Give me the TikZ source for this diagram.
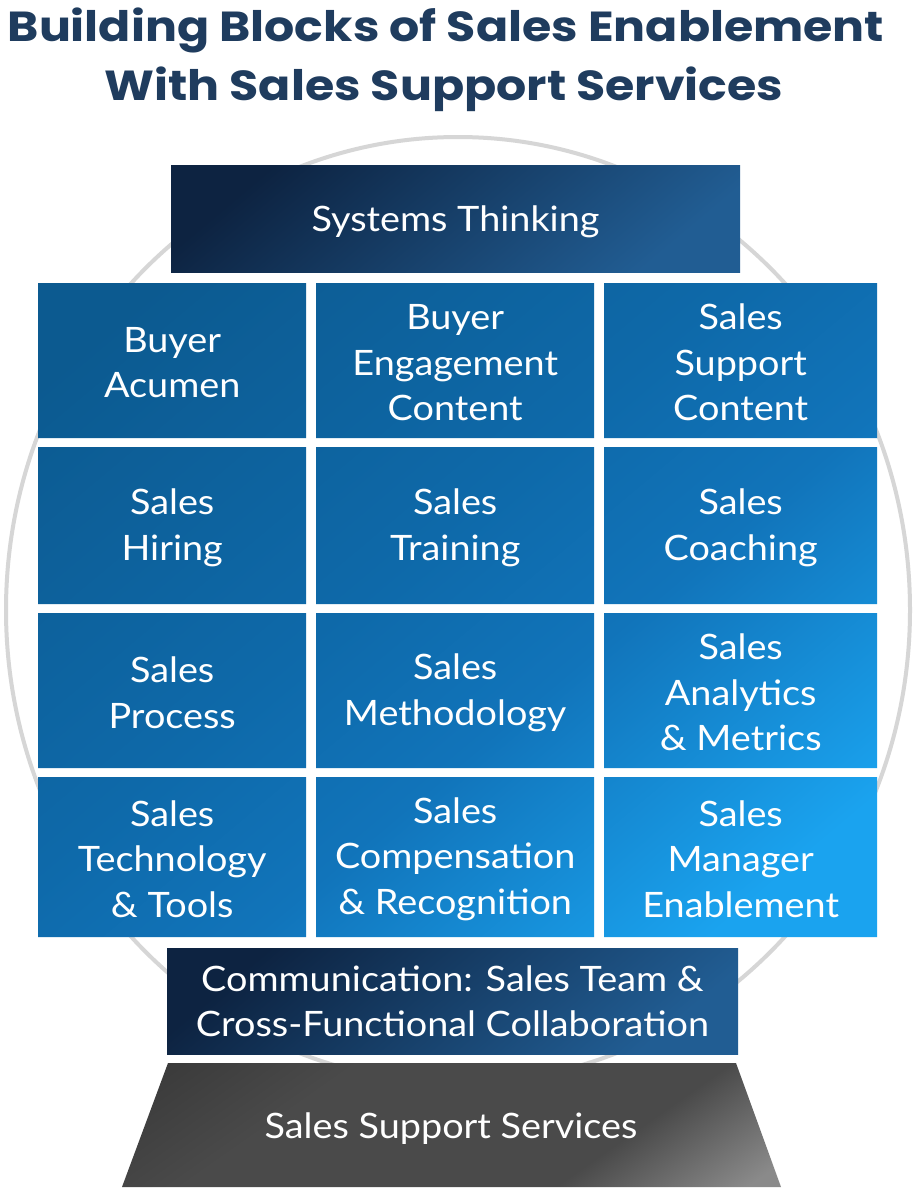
\documentclass[tikz,border=0pt]{standalone}
\usepackage{fontspec}
\setmainfont{Lato}[FakeStretch=1.08]
\newfontfamily\titlefont{Poppins}[FakeStretch=1.13]
\usetikzlibrary{shapes.geometric}
\definecolor{titleblue}{HTML}{1F3C5E}
\definecolor{ringgray}{HTML}{D6D6D6}
\definecolor{navyA}{HTML}{0D2341}
\definecolor{navyB}{HTML}{215D93}
\definecolor{gTL}{HTML}{0C5A90}
\definecolor{gMid}{HTML}{0E69A9}
\definecolor{gMidB}{HTML}{1174BA}
\definecolor{gBR}{HTML}{1AA3EF}
\definecolor{grayA}{HTML}{3A3A3A}
\definecolor{grayM}{HTML}{4A4A4A}
\definecolor{grayB}{HTML}{8A8A8A}
\pgfdeclareverticalshading{darksh}{100bp}{color(0bp)=(navyB); color(25bp)=(navyB); color(75bp)=(navyA); color(100bp)=(navyA)}
\pgfdeclareverticalshading{gridsh}{100bp}{color(0bp)=(gBR); color(22bp)=(gBR); color(42bp)=(gMidB); color(55bp)=(gMid); color(80bp)=(gTL); color(100bp)=(gTL)}
\pgfdeclareverticalshading{graysh}{100bp}{color(0bp)=(grayB); color(18bp)=(grayB); color(34bp)=(grayM); color(65bp)=(grayM); color(82bp)=(grayA); color(100bp)=(grayA)}
\tikzset{
  celltext/.style={text=white, align=center, inner sep=0pt,
    font=\fontsize{35}{45.5}\selectfont},
  cellbox/.style={celltext, anchor=north west},
  darkbox/.style={celltext, shade, shading=darksh, shading angle=40, text depth=0pt},
  titletext/.style={text=titleblue, inner sep=0pt, anchor=base,
    font=\titlefont\fontsize{42}{50}\selectfont\bfseries}
}
\begin{document}
\begin{tikzpicture}[x=1pt,y=-1pt]
\useasboundingbox[fill=white] (0,0) rectangle (916,1189);
% title
\node[titletext] (t1) at (446,41) {Building Blocks of Sales Enablement};
\node[titletext] (t2) at (444,100) {With Sales Support Services};
% ring
\draw[ringgray, line width=4pt] (458,610) ellipse [x radius=452pt, y radius=473pt];
% grid shading
\begin{scope}
\clip (38,283) rectangle (306,438) (316,283) rectangle (594,438) (604,283) rectangle (877,438)
      (38,447) rectangle (306,604) (316,447) rectangle (594,604) (604,447) rectangle (877,604)
      (38,613) rectangle (306,768) (316,613) rectangle (594,768) (604,613) rectangle (877,768)
      (38,777) rectangle (306,937) (316,777) rectangle (594,937) (604,777) rectangle (877,937);
\shade[shading=gridsh, shading angle=40] (38,283) rectangle (877,937);
\end{scope}
% cells
\node[cellbox, minimum width=268pt, minimum height=155pt] (c11) at (38,285) {Buyer\\Acumen};
\node[cellbox, minimum width=278pt, minimum height=155pt] (c12) at (316,285) {Buyer\\Engagement\\Content};
\node[cellbox, minimum width=273pt, minimum height=155pt] (c13) at (604,285) {Sales\\Support\\Content};
\node[cellbox, minimum width=268pt, minimum height=157pt] (c21) at (38,449) {Sales\\Hiring};
\node[cellbox, minimum width=278pt, minimum height=157pt] (c22) at (316,449) {Sales\\Training};
\node[cellbox, minimum width=273pt, minimum height=157pt] (c23) at (604,449) {Sales\\Coaching};
\node[cellbox, minimum width=268pt, minimum height=155pt] (c31) at (38,615) {Sales\\Process};
\node[cellbox, minimum width=278pt, minimum height=155pt] (c32) at (316,615) {Sales\\Methodology};
\node[cellbox, minimum width=273pt, minimum height=155pt] (c33) at (604,615) {Sales\\Analytics\\\&~Metrics};
\node[cellbox, minimum width=268pt, minimum height=160pt] (c41) at (38,779) {Sales\\Technology\\\&~Tools};
\node[cellbox, minimum width=278pt, minimum height=160pt] (c42) at (316,779) {Sales\\Compensation\\\&~Recognition};
\node[cellbox, minimum width=273pt, minimum height=160pt] (c43) at (604,779) {Sales\\Manager\\Enablement};
% dark boxes
\node[darkbox, text height=25pt, minimum width=569pt, minimum height=107pt] (sys) at (455.5,219) {Systems Thinking};
\node[darkbox, text height=70.5pt, minimum width=571pt, minimum height=106pt] (comm) at (452.5,1001.5) {Communication: Sales Team \&\\Cross-Functional Collaboration};
% base trapezoid
\shade[shading=graysh, shading angle=35] (168,1063) -- (736,1063) -- (781,1187) -- (122,1187) -- cycle;
\node[celltext, anchor=base] (sss) at (451,1138) {Sales Support Services};
\end{tikzpicture}
\end{document}
